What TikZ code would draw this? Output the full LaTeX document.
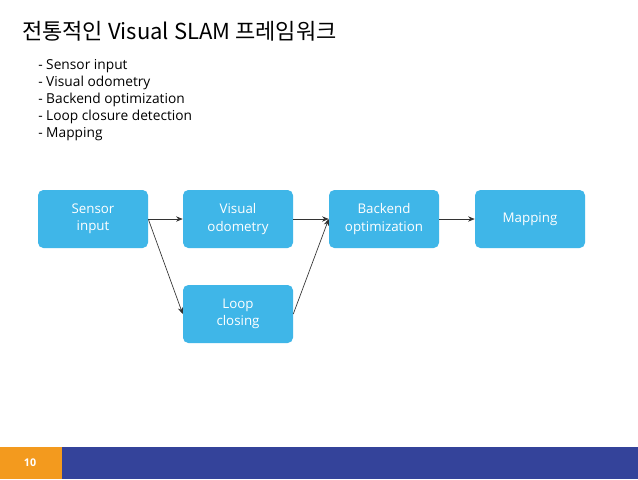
\documentclass[tikz,border=0pt]{standalone}
\usepackage{fontspec}
\setmainfont{Open Sans}
\newfontfamily\krfont{Noto Sans CJK KR}
\usetikzlibrary{arrows.meta}
\definecolor{boxblue}{HTML}{3FB6E8}
\definecolor{barblue}{HTML}{34439A}
\definecolor{barorange}{HTML}{F39A1E}
\begin{document}
\begin{tikzpicture}[x=0.75pt,y=-0.75pt,
  box/.style={fill=boxblue,rounded corners=4pt,minimum width=82.5pt,minimum height=43.5pt,text=white,align=center,font=\fontsize{10}{13}\selectfont,inner sep=0pt},
  arr/.style={draw=black!80,line width=0.5pt,-{Stealth[length=5pt,width=4pt]}}]
\useasboundingbox (0,0) rectangle (638,479);
\fill[white] (0,0) rectangle (638,479);
\node[anchor=west,font=\krfont\fontsize{16.5}{20}\selectfont,inner sep=0] (title) at (22,31) {전통적인 Visual SLAM 프레임워크};
\node[anchor=north west,align=left,font=\fontsize{10.3}{12.75}\selectfont,inner sep=0] (list) at (38,59) {- Sensor input\\- Visual odometry\\- Backend optimization\\- Loop closure detection\\- Mapping};
\node[box] (s) at (93,219) {Sensor\\input};
\node[box] (v) at (238,219) {Visual\\odometry};
\node[box] (b) at (384,219) {Backend\\optimization};
\node[box] (m) at (530,219) {Mapping};
\node[box] (l) at (238,314) {Loop\\closing};
\draw[arr] (s.east) -- (v.west);
\draw[arr] (s.east) -- (l.west);
\draw[arr] (v.east) -- (b.west);
\draw[arr] (l.east) -- (b.west);
\draw[arr] (b.east) -- (m.west);
\fill[barblue] (62,447) rectangle (638,479);
\fill[barorange] (0,447) rectangle (62,479);
\node[text=white,font=\fontsize{8}{10}\selectfont\bfseries] (num) at (30,463) {10};
\end{tikzpicture}
\end{document}
